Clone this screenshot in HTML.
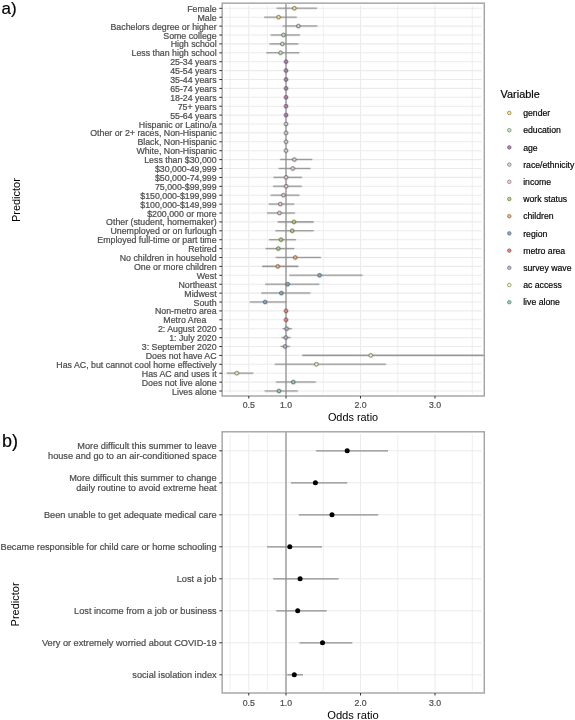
<!DOCTYPE html><html><head><meta charset="utf-8"><style>html,body{margin:0;padding:0;background:#fff;}svg{display:block;will-change:transform;} text.t{stroke:#4d4d4d;stroke-width:0.22px;} text.k{stroke:#000;stroke-width:0.18px;}</style></head><body>
<svg width="575" height="720" viewBox="0 0 575 720" font-family='"Liberation Sans", sans-serif'>
<rect width="575" height="720" fill="#fff"/>
<line x1="230.12" y1="5.35" x2="230.12" y2="393.8" stroke="#ebebeb" stroke-width="0.8"/>
<line x1="267.38" y1="5.35" x2="267.38" y2="393.8" stroke="#ebebeb" stroke-width="0.8"/>
<line x1="323.25" y1="5.35" x2="323.25" y2="393.8" stroke="#ebebeb" stroke-width="0.8"/>
<line x1="397.75" y1="5.35" x2="397.75" y2="393.8" stroke="#ebebeb" stroke-width="0.8"/>
<line x1="472.25" y1="5.35" x2="472.25" y2="393.8" stroke="#ebebeb" stroke-width="0.8"/>
<line x1="248.75" y1="5.35" x2="248.75" y2="393.8" stroke="#ebebeb" stroke-width="1.1"/>
<line x1="286.00" y1="5.35" x2="286.00" y2="393.8" stroke="#ebebeb" stroke-width="1.1"/>
<line x1="360.50" y1="5.35" x2="360.50" y2="393.8" stroke="#ebebeb" stroke-width="1.1"/>
<line x1="435.00" y1="5.35" x2="435.00" y2="393.8" stroke="#ebebeb" stroke-width="1.1"/>
<line x1="224.15" y1="8.32" x2="481.8" y2="8.32" stroke="#ebebeb" stroke-width="1.1"/>
<line x1="224.15" y1="17.22" x2="481.8" y2="17.22" stroke="#ebebeb" stroke-width="1.1"/>
<line x1="224.15" y1="26.12" x2="481.8" y2="26.12" stroke="#ebebeb" stroke-width="1.1"/>
<line x1="224.15" y1="35.02" x2="481.8" y2="35.02" stroke="#ebebeb" stroke-width="1.1"/>
<line x1="224.15" y1="43.92" x2="481.8" y2="43.92" stroke="#ebebeb" stroke-width="1.1"/>
<line x1="224.15" y1="52.82" x2="481.8" y2="52.82" stroke="#ebebeb" stroke-width="1.1"/>
<line x1="224.15" y1="61.72" x2="481.8" y2="61.72" stroke="#ebebeb" stroke-width="1.1"/>
<line x1="224.15" y1="70.62" x2="481.8" y2="70.62" stroke="#ebebeb" stroke-width="1.1"/>
<line x1="224.15" y1="79.52" x2="481.8" y2="79.52" stroke="#ebebeb" stroke-width="1.1"/>
<line x1="224.15" y1="88.42" x2="481.8" y2="88.42" stroke="#ebebeb" stroke-width="1.1"/>
<line x1="224.15" y1="97.32" x2="481.8" y2="97.32" stroke="#ebebeb" stroke-width="1.1"/>
<line x1="224.15" y1="106.22" x2="481.8" y2="106.22" stroke="#ebebeb" stroke-width="1.1"/>
<line x1="224.15" y1="115.12" x2="481.8" y2="115.12" stroke="#ebebeb" stroke-width="1.1"/>
<line x1="224.15" y1="124.02" x2="481.8" y2="124.02" stroke="#ebebeb" stroke-width="1.1"/>
<line x1="224.15" y1="132.92" x2="481.8" y2="132.92" stroke="#ebebeb" stroke-width="1.1"/>
<line x1="224.15" y1="141.82" x2="481.8" y2="141.82" stroke="#ebebeb" stroke-width="1.1"/>
<line x1="224.15" y1="150.72" x2="481.8" y2="150.72" stroke="#ebebeb" stroke-width="1.1"/>
<line x1="224.15" y1="159.62" x2="481.8" y2="159.62" stroke="#ebebeb" stroke-width="1.1"/>
<line x1="224.15" y1="168.52" x2="481.8" y2="168.52" stroke="#ebebeb" stroke-width="1.1"/>
<line x1="224.15" y1="177.42" x2="481.8" y2="177.42" stroke="#ebebeb" stroke-width="1.1"/>
<line x1="224.15" y1="186.32" x2="481.8" y2="186.32" stroke="#ebebeb" stroke-width="1.1"/>
<line x1="224.15" y1="195.22" x2="481.8" y2="195.22" stroke="#ebebeb" stroke-width="1.1"/>
<line x1="224.15" y1="204.12" x2="481.8" y2="204.12" stroke="#ebebeb" stroke-width="1.1"/>
<line x1="224.15" y1="213.02" x2="481.8" y2="213.02" stroke="#ebebeb" stroke-width="1.1"/>
<line x1="224.15" y1="221.92" x2="481.8" y2="221.92" stroke="#ebebeb" stroke-width="1.1"/>
<line x1="224.15" y1="230.82" x2="481.8" y2="230.82" stroke="#ebebeb" stroke-width="1.1"/>
<line x1="224.15" y1="239.72" x2="481.8" y2="239.72" stroke="#ebebeb" stroke-width="1.1"/>
<line x1="224.15" y1="248.62" x2="481.8" y2="248.62" stroke="#ebebeb" stroke-width="1.1"/>
<line x1="224.15" y1="257.52" x2="481.8" y2="257.52" stroke="#ebebeb" stroke-width="1.1"/>
<line x1="224.15" y1="266.42" x2="481.8" y2="266.42" stroke="#ebebeb" stroke-width="1.1"/>
<line x1="224.15" y1="275.32" x2="481.8" y2="275.32" stroke="#ebebeb" stroke-width="1.1"/>
<line x1="224.15" y1="284.22" x2="481.8" y2="284.22" stroke="#ebebeb" stroke-width="1.1"/>
<line x1="224.15" y1="293.12" x2="481.8" y2="293.12" stroke="#ebebeb" stroke-width="1.1"/>
<line x1="224.15" y1="302.02" x2="481.8" y2="302.02" stroke="#ebebeb" stroke-width="1.1"/>
<line x1="224.15" y1="310.92" x2="481.8" y2="310.92" stroke="#ebebeb" stroke-width="1.1"/>
<line x1="224.15" y1="319.82" x2="481.8" y2="319.82" stroke="#ebebeb" stroke-width="1.1"/>
<line x1="224.15" y1="328.72" x2="481.8" y2="328.72" stroke="#ebebeb" stroke-width="1.1"/>
<line x1="224.15" y1="337.62" x2="481.8" y2="337.62" stroke="#ebebeb" stroke-width="1.1"/>
<line x1="224.15" y1="346.52" x2="481.8" y2="346.52" stroke="#ebebeb" stroke-width="1.1"/>
<line x1="224.15" y1="355.42" x2="481.8" y2="355.42" stroke="#ebebeb" stroke-width="1.1"/>
<line x1="224.15" y1="364.32" x2="481.8" y2="364.32" stroke="#ebebeb" stroke-width="1.1"/>
<line x1="224.15" y1="373.22" x2="481.8" y2="373.22" stroke="#ebebeb" stroke-width="1.1"/>
<line x1="224.15" y1="382.12" x2="481.8" y2="382.12" stroke="#ebebeb" stroke-width="1.1"/>
<line x1="224.15" y1="391.02" x2="481.8" y2="391.02" stroke="#ebebeb" stroke-width="1.1"/>
<line x1="286" y1="3.15" x2="286" y2="396.0" stroke="#a0a0a0" stroke-width="1.5"/>
<svg x="222.15" y="3.15" width="262.15" height="392.85" overflow="hidden"><g transform="translate(-222.15,-3.15)">
<line x1="276.6" y1="8.32" x2="317" y2="8.32" stroke="#8e8e8e" stroke-width="1.3"/>
<line x1="264.1" y1="17.22" x2="296.8" y2="17.22" stroke="#8e8e8e" stroke-width="1.3"/>
<line x1="282.7" y1="26.12" x2="317.3" y2="26.12" stroke="#8e8e8e" stroke-width="1.3"/>
<line x1="270.6" y1="35.02" x2="300" y2="35.02" stroke="#8e8e8e" stroke-width="1.3"/>
<line x1="269.5" y1="43.92" x2="298.4" y2="43.92" stroke="#8e8e8e" stroke-width="1.3"/>
<line x1="266.3" y1="52.82" x2="299.3" y2="52.82" stroke="#8e8e8e" stroke-width="1.3"/>
<line x1="280" y1="159.62" x2="312.3" y2="159.62" stroke="#8e8e8e" stroke-width="1.3"/>
<line x1="278.6" y1="168.52" x2="310.5" y2="168.52" stroke="#8e8e8e" stroke-width="1.3"/>
<line x1="273.4" y1="177.42" x2="301.9" y2="177.42" stroke="#8e8e8e" stroke-width="1.3"/>
<line x1="273" y1="186.32" x2="301.9" y2="186.32" stroke="#8e8e8e" stroke-width="1.3"/>
<line x1="270.6" y1="195.22" x2="299.5" y2="195.22" stroke="#8e8e8e" stroke-width="1.3"/>
<line x1="268.7" y1="204.12" x2="294.3" y2="204.12" stroke="#8e8e8e" stroke-width="1.3"/>
<line x1="267" y1="213.02" x2="295" y2="213.02" stroke="#8e8e8e" stroke-width="1.3"/>
<line x1="277.7" y1="221.92" x2="313.7" y2="221.92" stroke="#8e8e8e" stroke-width="1.3"/>
<line x1="275.3" y1="230.82" x2="313.7" y2="230.82" stroke="#8e8e8e" stroke-width="1.3"/>
<line x1="268.9" y1="239.72" x2="296" y2="239.72" stroke="#8e8e8e" stroke-width="1.3"/>
<line x1="265.6" y1="248.62" x2="294.3" y2="248.62" stroke="#8e8e8e" stroke-width="1.3"/>
<line x1="275.7" y1="257.52" x2="320.9" y2="257.52" stroke="#8e8e8e" stroke-width="1.3"/>
<line x1="262.1" y1="266.42" x2="298.4" y2="266.42" stroke="#8e8e8e" stroke-width="1.3"/>
<line x1="289.2" y1="275.32" x2="362.5" y2="275.32" stroke="#8e8e8e" stroke-width="1.3"/>
<line x1="265.1" y1="284.22" x2="319.4" y2="284.22" stroke="#8e8e8e" stroke-width="1.3"/>
<line x1="261.2" y1="293.12" x2="310.4" y2="293.12" stroke="#8e8e8e" stroke-width="1.3"/>
<line x1="249.7" y1="302.02" x2="286.3" y2="302.02" stroke="#8e8e8e" stroke-width="1.3"/>
<line x1="282.5" y1="328.72" x2="291.9" y2="328.72" stroke="#8e8e8e" stroke-width="1.3"/>
<line x1="281.5" y1="337.62" x2="290.7" y2="337.62" stroke="#8e8e8e" stroke-width="1.3"/>
<line x1="280.6" y1="346.52" x2="289.8" y2="346.52" stroke="#8e8e8e" stroke-width="1.3"/>
<line x1="302.2" y1="355.42" x2="484" y2="355.42" stroke="#8e8e8e" stroke-width="1.3"/>
<line x1="274.7" y1="364.32" x2="386" y2="364.32" stroke="#8e8e8e" stroke-width="1.3"/>
<line x1="226.7" y1="373.22" x2="253.3" y2="373.22" stroke="#8e8e8e" stroke-width="1.3"/>
<line x1="275.9" y1="382.12" x2="315.7" y2="382.12" stroke="#8e8e8e" stroke-width="1.3"/>
<line x1="264.6" y1="391.02" x2="297.8" y2="391.02" stroke="#8e8e8e" stroke-width="1.3"/>
<circle cx="294.4" cy="8.32" r="1.85" fill="#FFED6F" stroke="#484848" stroke-width="0.8"/>
<circle cx="278.6" cy="17.22" r="1.85" fill="#FFED6F" stroke="#484848" stroke-width="0.8"/>
<circle cx="298.4" cy="26.12" r="1.85" fill="#CCEBC5" stroke="#484848" stroke-width="0.8"/>
<circle cx="283.5" cy="35.02" r="1.85" fill="#CCEBC5" stroke="#484848" stroke-width="0.8"/>
<circle cx="282.4" cy="43.92" r="1.85" fill="#CCEBC5" stroke="#484848" stroke-width="0.8"/>
<circle cx="280.6" cy="52.82" r="1.85" fill="#CCEBC5" stroke="#484848" stroke-width="0.8"/>
<circle cx="286" cy="61.72" r="1.85" fill="#BC80BD" stroke="#484848" stroke-width="0.8"/>
<circle cx="286" cy="70.62" r="1.85" fill="#BC80BD" stroke="#484848" stroke-width="0.8"/>
<circle cx="286" cy="79.52" r="1.85" fill="#BC80BD" stroke="#484848" stroke-width="0.8"/>
<circle cx="286" cy="88.42" r="1.85" fill="#BC80BD" stroke="#484848" stroke-width="0.8"/>
<circle cx="286" cy="97.32" r="1.85" fill="#BC80BD" stroke="#484848" stroke-width="0.8"/>
<circle cx="286" cy="106.22" r="1.85" fill="#BC80BD" stroke="#484848" stroke-width="0.8"/>
<circle cx="286" cy="115.12" r="1.85" fill="#BC80BD" stroke="#484848" stroke-width="0.8"/>
<circle cx="286" cy="124.02" r="1.85" fill="#D9D9D9" stroke="#484848" stroke-width="0.8"/>
<circle cx="286" cy="132.92" r="1.85" fill="#D9D9D9" stroke="#484848" stroke-width="0.8"/>
<circle cx="286" cy="141.82" r="1.85" fill="#D9D9D9" stroke="#484848" stroke-width="0.8"/>
<circle cx="286" cy="150.72" r="1.85" fill="#D9D9D9" stroke="#484848" stroke-width="0.8"/>
<circle cx="294.4" cy="159.62" r="1.85" fill="#FCCDE5" stroke="#484848" stroke-width="0.8"/>
<circle cx="292.8" cy="168.52" r="1.85" fill="#FCCDE5" stroke="#484848" stroke-width="0.8"/>
<circle cx="286.1" cy="177.42" r="1.85" fill="#FCCDE5" stroke="#484848" stroke-width="0.8"/>
<circle cx="286.1" cy="186.32" r="1.85" fill="#FCCDE5" stroke="#484848" stroke-width="0.8"/>
<circle cx="283.5" cy="195.22" r="1.85" fill="#FCCDE5" stroke="#484848" stroke-width="0.8"/>
<circle cx="280.3" cy="204.12" r="1.85" fill="#FCCDE5" stroke="#484848" stroke-width="0.8"/>
<circle cx="279.5" cy="213.02" r="1.85" fill="#FCCDE5" stroke="#484848" stroke-width="0.8"/>
<circle cx="293.9" cy="221.92" r="1.85" fill="#B3DE69" stroke="#484848" stroke-width="0.8"/>
<circle cx="292.2" cy="230.82" r="1.85" fill="#B3DE69" stroke="#484848" stroke-width="0.8"/>
<circle cx="281" cy="239.72" r="1.85" fill="#B3DE69" stroke="#484848" stroke-width="0.8"/>
<circle cx="278.3" cy="248.62" r="1.85" fill="#B3DE69" stroke="#484848" stroke-width="0.8"/>
<circle cx="295.3" cy="257.52" r="1.85" fill="#FDB462" stroke="#484848" stroke-width="0.8"/>
<circle cx="277.8" cy="266.42" r="1.85" fill="#FDB462" stroke="#484848" stroke-width="0.8"/>
<circle cx="319.6" cy="275.32" r="1.85" fill="#80B1D3" stroke="#484848" stroke-width="0.8"/>
<circle cx="287.7" cy="284.22" r="1.85" fill="#80B1D3" stroke="#484848" stroke-width="0.8"/>
<circle cx="281.4" cy="293.12" r="1.85" fill="#80B1D3" stroke="#484848" stroke-width="0.8"/>
<circle cx="265.1" cy="302.02" r="1.85" fill="#80B1D3" stroke="#484848" stroke-width="0.8"/>
<circle cx="286" cy="310.92" r="1.85" fill="#FB8072" stroke="#484848" stroke-width="0.8"/>
<circle cx="286" cy="319.82" r="1.85" fill="#FB8072" stroke="#484848" stroke-width="0.8"/>
<circle cx="286.7" cy="328.72" r="1.85" fill="#BEBADA" stroke="#484848" stroke-width="0.8"/>
<circle cx="285.8" cy="337.62" r="1.85" fill="#BEBADA" stroke="#484848" stroke-width="0.8"/>
<circle cx="285" cy="346.52" r="1.85" fill="#BEBADA" stroke="#484848" stroke-width="0.8"/>
<circle cx="370.8" cy="355.42" r="1.85" fill="#FFFFB3" stroke="#484848" stroke-width="0.8"/>
<circle cx="316.4" cy="364.32" r="1.85" fill="#FFFFB3" stroke="#484848" stroke-width="0.8"/>
<circle cx="236.8" cy="373.22" r="1.85" fill="#FFFFB3" stroke="#484848" stroke-width="0.8"/>
<circle cx="293.3" cy="382.12" r="1.85" fill="#8DD3C7" stroke="#484848" stroke-width="0.8"/>
<circle cx="279" cy="391.02" r="1.85" fill="#8DD3C7" stroke="#484848" stroke-width="0.8"/>
</g></svg>
<rect x="222.15" y="3.15" width="262.15" height="392.85" fill="none" stroke="#a2a2a2" stroke-width="1.4"/>
<line x1="248.75" y1="396.0" x2="248.75" y2="398.5" stroke="#333" stroke-width="1"/>
<line x1="286.00" y1="396.0" x2="286.00" y2="398.5" stroke="#333" stroke-width="1"/>
<line x1="360.50" y1="396.0" x2="360.50" y2="398.5" stroke="#333" stroke-width="1"/>
<line x1="435.00" y1="396.0" x2="435.00" y2="398.5" stroke="#333" stroke-width="1"/>
<line x1="219.3" y1="8.32" x2="222.15" y2="8.32" stroke="#333" stroke-width="1"/>
<text x="216.6" y="11.82" font-size="8.8" fill="#4d4d4d" class="t" text-anchor="end">Female</text>
<line x1="219.3" y1="17.22" x2="222.15" y2="17.22" stroke="#333" stroke-width="1"/>
<text x="216.6" y="20.72" font-size="8.8" fill="#4d4d4d" class="t" text-anchor="end">Male</text>
<line x1="219.3" y1="26.12" x2="222.15" y2="26.12" stroke="#333" stroke-width="1"/>
<text x="216.6" y="29.62" font-size="8.8" fill="#4d4d4d" class="t" text-anchor="end">Bachelors degree or higher</text>
<line x1="219.3" y1="35.02" x2="222.15" y2="35.02" stroke="#333" stroke-width="1"/>
<text x="216.6" y="38.52" font-size="8.8" fill="#4d4d4d" class="t" text-anchor="end">Some college</text>
<line x1="219.3" y1="43.92" x2="222.15" y2="43.92" stroke="#333" stroke-width="1"/>
<text x="216.6" y="47.42" font-size="8.8" fill="#4d4d4d" class="t" text-anchor="end">High school</text>
<line x1="219.3" y1="52.82" x2="222.15" y2="52.82" stroke="#333" stroke-width="1"/>
<text x="216.6" y="56.32" font-size="8.8" fill="#4d4d4d" class="t" text-anchor="end">Less than high school</text>
<line x1="219.3" y1="61.72" x2="222.15" y2="61.72" stroke="#333" stroke-width="1"/>
<text x="216.6" y="65.22" font-size="8.8" fill="#4d4d4d" class="t" text-anchor="end">25-34 years</text>
<line x1="219.3" y1="70.62" x2="222.15" y2="70.62" stroke="#333" stroke-width="1"/>
<text x="216.6" y="74.12" font-size="8.8" fill="#4d4d4d" class="t" text-anchor="end">45-54 years</text>
<line x1="219.3" y1="79.52" x2="222.15" y2="79.52" stroke="#333" stroke-width="1"/>
<text x="216.6" y="83.02" font-size="8.8" fill="#4d4d4d" class="t" text-anchor="end">35-44 years</text>
<line x1="219.3" y1="88.42" x2="222.15" y2="88.42" stroke="#333" stroke-width="1"/>
<text x="216.6" y="91.92" font-size="8.8" fill="#4d4d4d" class="t" text-anchor="end">65-74 years</text>
<line x1="219.3" y1="97.32" x2="222.15" y2="97.32" stroke="#333" stroke-width="1"/>
<text x="216.6" y="100.82" font-size="8.8" fill="#4d4d4d" class="t" text-anchor="end">18-24 years</text>
<line x1="219.3" y1="106.22" x2="222.15" y2="106.22" stroke="#333" stroke-width="1"/>
<text x="216.6" y="109.72" font-size="8.8" fill="#4d4d4d" class="t" text-anchor="end">75+ years</text>
<line x1="219.3" y1="115.12" x2="222.15" y2="115.12" stroke="#333" stroke-width="1"/>
<text x="216.6" y="118.62" font-size="8.8" fill="#4d4d4d" class="t" text-anchor="end">55-64 years</text>
<line x1="219.3" y1="124.02" x2="222.15" y2="124.02" stroke="#333" stroke-width="1"/>
<text x="216.6" y="127.52" font-size="8.8" fill="#4d4d4d" class="t" text-anchor="end">Hispanic or Latino/a</text>
<line x1="219.3" y1="132.92" x2="222.15" y2="132.92" stroke="#333" stroke-width="1"/>
<text x="216.6" y="136.42" font-size="8.8" fill="#4d4d4d" class="t" text-anchor="end">Other or 2+ races, Non-Hispanic</text>
<line x1="219.3" y1="141.82" x2="222.15" y2="141.82" stroke="#333" stroke-width="1"/>
<text x="216.6" y="145.32" font-size="8.8" fill="#4d4d4d" class="t" text-anchor="end">Black, Non-Hispanic</text>
<line x1="219.3" y1="150.72" x2="222.15" y2="150.72" stroke="#333" stroke-width="1"/>
<text x="216.6" y="154.22" font-size="8.8" fill="#4d4d4d" class="t" text-anchor="end">White, Non-Hispanic</text>
<line x1="219.3" y1="159.62" x2="222.15" y2="159.62" stroke="#333" stroke-width="1"/>
<text x="216.6" y="163.12" font-size="8.8" fill="#4d4d4d" class="t" text-anchor="end">Less than $30,000</text>
<line x1="219.3" y1="168.52" x2="222.15" y2="168.52" stroke="#333" stroke-width="1"/>
<text x="216.6" y="172.02" font-size="8.8" fill="#4d4d4d" class="t" text-anchor="end">$30,000-49,999</text>
<line x1="219.3" y1="177.42" x2="222.15" y2="177.42" stroke="#333" stroke-width="1"/>
<text x="216.6" y="180.92" font-size="8.8" fill="#4d4d4d" class="t" text-anchor="end">$50,000-74,999</text>
<line x1="219.3" y1="186.32" x2="222.15" y2="186.32" stroke="#333" stroke-width="1"/>
<text x="216.6" y="189.82" font-size="8.8" fill="#4d4d4d" class="t" text-anchor="end">75,000-$99,999</text>
<line x1="219.3" y1="195.22" x2="222.15" y2="195.22" stroke="#333" stroke-width="1"/>
<text x="216.6" y="198.72" font-size="8.8" fill="#4d4d4d" class="t" text-anchor="end">$150,000-$199,999</text>
<line x1="219.3" y1="204.12" x2="222.15" y2="204.12" stroke="#333" stroke-width="1"/>
<text x="216.6" y="207.62" font-size="8.8" fill="#4d4d4d" class="t" text-anchor="end">$100,000-$149,999</text>
<line x1="219.3" y1="213.02" x2="222.15" y2="213.02" stroke="#333" stroke-width="1"/>
<text x="216.6" y="216.52" font-size="8.8" fill="#4d4d4d" class="t" text-anchor="end">$200,000 or more</text>
<line x1="219.3" y1="221.92" x2="222.15" y2="221.92" stroke="#333" stroke-width="1"/>
<text x="216.6" y="225.42" font-size="8.8" fill="#4d4d4d" class="t" text-anchor="end">Other (student, homemaker)</text>
<line x1="219.3" y1="230.82" x2="222.15" y2="230.82" stroke="#333" stroke-width="1"/>
<text x="216.6" y="234.32" font-size="8.8" fill="#4d4d4d" class="t" text-anchor="end">Unemployed or on furlough</text>
<line x1="219.3" y1="239.72" x2="222.15" y2="239.72" stroke="#333" stroke-width="1"/>
<text x="216.6" y="243.22" font-size="8.8" fill="#4d4d4d" class="t" text-anchor="end">Employed full-time or part time</text>
<line x1="219.3" y1="248.62" x2="222.15" y2="248.62" stroke="#333" stroke-width="1"/>
<text x="216.6" y="252.12" font-size="8.8" fill="#4d4d4d" class="t" text-anchor="end">Retired</text>
<line x1="219.3" y1="257.52" x2="222.15" y2="257.52" stroke="#333" stroke-width="1"/>
<text x="216.6" y="261.02" font-size="8.8" fill="#4d4d4d" class="t" text-anchor="end">No children in household</text>
<line x1="219.3" y1="266.42" x2="222.15" y2="266.42" stroke="#333" stroke-width="1"/>
<text x="216.6" y="269.92" font-size="8.8" fill="#4d4d4d" class="t" text-anchor="end">One or more children</text>
<line x1="219.3" y1="275.32" x2="222.15" y2="275.32" stroke="#333" stroke-width="1"/>
<text x="216.6" y="278.82" font-size="8.8" fill="#4d4d4d" class="t" text-anchor="end">West</text>
<line x1="219.3" y1="284.22" x2="222.15" y2="284.22" stroke="#333" stroke-width="1"/>
<text x="216.6" y="287.72" font-size="8.8" fill="#4d4d4d" class="t" text-anchor="end">Northeast</text>
<line x1="219.3" y1="293.12" x2="222.15" y2="293.12" stroke="#333" stroke-width="1"/>
<text x="216.6" y="296.62" font-size="8.8" fill="#4d4d4d" class="t" text-anchor="end">Midwest</text>
<line x1="219.3" y1="302.02" x2="222.15" y2="302.02" stroke="#333" stroke-width="1"/>
<text x="216.6" y="305.52" font-size="8.8" fill="#4d4d4d" class="t" text-anchor="end">South</text>
<line x1="219.3" y1="310.92" x2="222.15" y2="310.92" stroke="#333" stroke-width="1"/>
<text x="216.6" y="314.42" font-size="8.8" fill="#4d4d4d" class="t" text-anchor="end">Non-metro area</text>
<line x1="219.3" y1="319.82" x2="222.15" y2="319.82" stroke="#333" stroke-width="1"/>
<text x="206.4" y="323.32" font-size="8.8" fill="#4d4d4d" class="t" text-anchor="end">Metro Area</text>
<line x1="219.3" y1="328.72" x2="222.15" y2="328.72" stroke="#333" stroke-width="1"/>
<text x="216.6" y="332.22" font-size="8.8" fill="#4d4d4d" class="t" text-anchor="end">2: August 2020</text>
<line x1="219.3" y1="337.62" x2="222.15" y2="337.62" stroke="#333" stroke-width="1"/>
<text x="216.6" y="341.12" font-size="8.8" fill="#4d4d4d" class="t" text-anchor="end">1: July 2020</text>
<line x1="219.3" y1="346.52" x2="222.15" y2="346.52" stroke="#333" stroke-width="1"/>
<text x="216.6" y="350.02" font-size="8.8" fill="#4d4d4d" class="t" text-anchor="end">3: September 2020</text>
<line x1="219.3" y1="355.42" x2="222.15" y2="355.42" stroke="#333" stroke-width="1"/>
<text x="216.6" y="358.92" font-size="8.8" fill="#4d4d4d" class="t" text-anchor="end">Does not have AC</text>
<line x1="219.3" y1="364.32" x2="222.15" y2="364.32" stroke="#333" stroke-width="1"/>
<text x="216.6" y="367.82" font-size="8.8" fill="#4d4d4d" class="t" text-anchor="end">Has AC, but cannot cool home effectively</text>
<line x1="219.3" y1="373.22" x2="222.15" y2="373.22" stroke="#333" stroke-width="1"/>
<text x="216.6" y="376.72" font-size="8.8" fill="#4d4d4d" class="t" text-anchor="end">Has AC and uses it</text>
<line x1="219.3" y1="382.12" x2="222.15" y2="382.12" stroke="#333" stroke-width="1"/>
<text x="216.6" y="385.62" font-size="8.8" fill="#4d4d4d" class="t" text-anchor="end">Does not live alone</text>
<line x1="219.3" y1="391.02" x2="222.15" y2="391.02" stroke="#333" stroke-width="1"/>
<text x="216.6" y="394.52" font-size="8.8" fill="#4d4d4d" class="t" text-anchor="end">Lives alone</text>
<text x="248.75" y="407.6" font-size="8.7" fill="#4d4d4d" class="t" text-anchor="middle">0.5</text>
<text x="286.00" y="407.6" font-size="8.7" fill="#4d4d4d" class="t" text-anchor="middle">1.0</text>
<text x="360.50" y="407.6" font-size="8.7" fill="#4d4d4d" class="t" text-anchor="middle">2.0</text>
<text x="435.00" y="407.6" font-size="8.7" fill="#4d4d4d" class="t" text-anchor="middle">3.0</text>
<text x="353" y="420.6" font-size="10.9" fill="#000" text-anchor="middle">Odds ratio</text>
<text transform="translate(19.6,200.1) rotate(-90)" font-size="11" fill="#000" text-anchor="middle">Predictor</text>
<text x="1.5" y="13.6" font-size="17" fill="#000" class="k">a)</text>
<text x="500.6" y="98.2" font-size="10.9" fill="#000" class="k">Variable</text>
<circle cx="509.3" cy="113.00" r="1.8" fill="#FFED6F" stroke="#444" stroke-width="0.5"/>
<text x="523.2" y="116.10" font-size="8.7" fill="#000" class="k">gender</text>
<circle cx="509.3" cy="130.20" r="1.8" fill="#CCEBC5" stroke="#444" stroke-width="0.5"/>
<text x="523.2" y="133.30" font-size="8.7" fill="#000" class="k">education</text>
<circle cx="509.3" cy="147.40" r="1.8" fill="#BC80BD" stroke="#444" stroke-width="0.5"/>
<text x="523.2" y="150.50" font-size="8.7" fill="#000" class="k">age</text>
<circle cx="509.3" cy="164.60" r="1.8" fill="#D9D9D9" stroke="#444" stroke-width="0.5"/>
<text x="523.2" y="167.70" font-size="8.7" fill="#000" class="k">race/ethnicity</text>
<circle cx="509.3" cy="181.80" r="1.8" fill="#FCCDE5" stroke="#444" stroke-width="0.5"/>
<text x="523.2" y="184.90" font-size="8.7" fill="#000" class="k">income</text>
<circle cx="509.3" cy="199.00" r="1.8" fill="#B3DE69" stroke="#444" stroke-width="0.5"/>
<text x="523.2" y="202.10" font-size="8.7" fill="#000" class="k">work status</text>
<circle cx="509.3" cy="216.20" r="1.8" fill="#FDB462" stroke="#444" stroke-width="0.5"/>
<text x="523.2" y="219.30" font-size="8.7" fill="#000" class="k">children</text>
<circle cx="509.3" cy="233.40" r="1.8" fill="#80B1D3" stroke="#444" stroke-width="0.5"/>
<text x="523.2" y="236.50" font-size="8.7" fill="#000" class="k">region</text>
<circle cx="509.3" cy="250.60" r="1.8" fill="#FB8072" stroke="#444" stroke-width="0.5"/>
<text x="523.2" y="253.70" font-size="8.7" fill="#000" class="k">metro area</text>
<circle cx="509.3" cy="267.80" r="1.8" fill="#BEBADA" stroke="#444" stroke-width="0.5"/>
<text x="523.2" y="270.90" font-size="8.7" fill="#000" class="k">survey wave</text>
<circle cx="509.3" cy="285.00" r="1.8" fill="#FFFFB3" stroke="#444" stroke-width="0.5"/>
<text x="523.2" y="288.10" font-size="8.7" fill="#000" class="k">ac access</text>
<circle cx="509.3" cy="302.20" r="1.8" fill="#8DD3C7" stroke="#444" stroke-width="0.5"/>
<text x="523.2" y="305.30" font-size="8.7" fill="#000" class="k">live alone</text>
<line x1="230.12" y1="434.0" x2="230.12" y2="690.8" stroke="#ebebeb" stroke-width="0.8"/>
<line x1="267.38" y1="434.0" x2="267.38" y2="690.8" stroke="#ebebeb" stroke-width="0.8"/>
<line x1="323.25" y1="434.0" x2="323.25" y2="690.8" stroke="#ebebeb" stroke-width="0.8"/>
<line x1="397.75" y1="434.0" x2="397.75" y2="690.8" stroke="#ebebeb" stroke-width="0.8"/>
<line x1="472.25" y1="434.0" x2="472.25" y2="690.8" stroke="#ebebeb" stroke-width="0.8"/>
<line x1="248.75" y1="434.0" x2="248.75" y2="690.8" stroke="#ebebeb" stroke-width="1.1"/>
<line x1="286.00" y1="434.0" x2="286.00" y2="690.8" stroke="#ebebeb" stroke-width="1.1"/>
<line x1="360.50" y1="434.0" x2="360.50" y2="690.8" stroke="#ebebeb" stroke-width="1.1"/>
<line x1="435.00" y1="434.0" x2="435.00" y2="690.8" stroke="#ebebeb" stroke-width="1.1"/>
<line x1="224.15" y1="450.80" x2="481.8" y2="450.80" stroke="#ebebeb" stroke-width="1.1"/>
<line x1="224.15" y1="482.80" x2="481.8" y2="482.80" stroke="#ebebeb" stroke-width="1.1"/>
<line x1="224.15" y1="514.80" x2="481.8" y2="514.80" stroke="#ebebeb" stroke-width="1.1"/>
<line x1="224.15" y1="546.80" x2="481.8" y2="546.80" stroke="#ebebeb" stroke-width="1.1"/>
<line x1="224.15" y1="578.80" x2="481.8" y2="578.80" stroke="#ebebeb" stroke-width="1.1"/>
<line x1="224.15" y1="610.80" x2="481.8" y2="610.80" stroke="#ebebeb" stroke-width="1.1"/>
<line x1="224.15" y1="642.80" x2="481.8" y2="642.80" stroke="#ebebeb" stroke-width="1.1"/>
<line x1="224.15" y1="674.80" x2="481.8" y2="674.80" stroke="#ebebeb" stroke-width="1.1"/>
<line x1="286" y1="431.8" x2="286" y2="693.0" stroke="#a0a0a0" stroke-width="1.5"/>
<line x1="316.1" y1="450.80" x2="388" y2="450.80" stroke="#8e8e8e" stroke-width="1.3"/>
<line x1="290.9" y1="482.80" x2="347.2" y2="482.80" stroke="#8e8e8e" stroke-width="1.3"/>
<line x1="298.7" y1="514.80" x2="378.2" y2="514.80" stroke="#8e8e8e" stroke-width="1.3"/>
<line x1="267.1" y1="546.80" x2="322" y2="546.80" stroke="#8e8e8e" stroke-width="1.3"/>
<line x1="273.2" y1="578.80" x2="338.6" y2="578.80" stroke="#8e8e8e" stroke-width="1.3"/>
<line x1="276.3" y1="610.80" x2="326.7" y2="610.80" stroke="#8e8e8e" stroke-width="1.3"/>
<line x1="299.5" y1="642.80" x2="352.3" y2="642.80" stroke="#8e8e8e" stroke-width="1.3"/>
<line x1="287.2" y1="674.80" x2="303" y2="674.80" stroke="#8e8e8e" stroke-width="1.3"/>
<circle cx="347.2" cy="450.80" r="2.5" fill="#000"/>
<circle cx="315.4" cy="482.80" r="2.5" fill="#000"/>
<circle cx="332" cy="514.80" r="2.5" fill="#000"/>
<circle cx="289.8" cy="546.80" r="2.5" fill="#000"/>
<circle cx="300.1" cy="578.80" r="2.5" fill="#000"/>
<circle cx="297.7" cy="610.80" r="2.5" fill="#000"/>
<circle cx="322.5" cy="642.80" r="2.5" fill="#000"/>
<circle cx="294.3" cy="674.80" r="2.5" fill="#000"/>
<rect x="222.15" y="431.8" width="262.15" height="261.2" fill="none" stroke="#a2a2a2" stroke-width="1.4"/>
<line x1="248.75" y1="693.0" x2="248.75" y2="695.5" stroke="#333" stroke-width="1"/>
<line x1="286.00" y1="693.0" x2="286.00" y2="695.5" stroke="#333" stroke-width="1"/>
<line x1="360.50" y1="693.0" x2="360.50" y2="695.5" stroke="#333" stroke-width="1"/>
<line x1="435.00" y1="693.0" x2="435.00" y2="695.5" stroke="#333" stroke-width="1"/>
<line x1="219.3" y1="450.80" x2="222.15" y2="450.80" stroke="#333" stroke-width="1"/>
<text x="216.6" y="449.30" font-size="9.2" fill="#4d4d4d" class="t" text-anchor="end">More difficult this summer to leave</text>
<text x="216.6" y="459.30" font-size="9.2" fill="#4d4d4d" class="t" text-anchor="end">house and go to an air-conditioned space</text>
<line x1="219.3" y1="482.80" x2="222.15" y2="482.80" stroke="#333" stroke-width="1"/>
<text x="216.6" y="481.30" font-size="9.2" fill="#4d4d4d" class="t" text-anchor="end">More difficult this summer to change</text>
<text x="216.6" y="491.30" font-size="9.2" fill="#4d4d4d" class="t" text-anchor="end">daily routine to avoid extreme heat</text>
<line x1="219.3" y1="514.80" x2="222.15" y2="514.80" stroke="#333" stroke-width="1"/>
<text x="216.6" y="518.30" font-size="9.2" fill="#4d4d4d" class="t" text-anchor="end">Been unable to get adequate medical care</text>
<line x1="219.3" y1="546.80" x2="222.15" y2="546.80" stroke="#333" stroke-width="1"/>
<text x="216.6" y="550.30" font-size="9.2" fill="#4d4d4d" class="t" text-anchor="end">Became responsible for child care or home schooling</text>
<line x1="219.3" y1="578.80" x2="222.15" y2="578.80" stroke="#333" stroke-width="1"/>
<text x="216.6" y="582.30" font-size="9.2" fill="#4d4d4d" class="t" text-anchor="end">Lost a job</text>
<line x1="219.3" y1="610.80" x2="222.15" y2="610.80" stroke="#333" stroke-width="1"/>
<text x="216.6" y="614.30" font-size="9.2" fill="#4d4d4d" class="t" text-anchor="end">Lost income from a job or business</text>
<line x1="219.3" y1="642.80" x2="222.15" y2="642.80" stroke="#333" stroke-width="1"/>
<text x="216.6" y="646.30" font-size="9.2" fill="#4d4d4d" class="t" text-anchor="end">Very or extremely worried about COVID-19</text>
<line x1="219.3" y1="674.80" x2="222.15" y2="674.80" stroke="#333" stroke-width="1"/>
<text x="216.6" y="678.30" font-size="9.2" fill="#4d4d4d" class="t" text-anchor="end">social isolation index</text>
<text x="248.75" y="705.6" font-size="8.7" fill="#4d4d4d" class="t" text-anchor="middle">0.5</text>
<text x="286.00" y="705.6" font-size="8.7" fill="#4d4d4d" class="t" text-anchor="middle">1.0</text>
<text x="360.50" y="705.6" font-size="8.7" fill="#4d4d4d" class="t" text-anchor="middle">2.0</text>
<text x="435.00" y="705.6" font-size="8.7" fill="#4d4d4d" class="t" text-anchor="middle">3.0</text>
<text x="353" y="718.6" font-size="11.2" fill="#000" text-anchor="middle">Odds ratio</text>
<text transform="translate(19.2,604.4) rotate(-90)" font-size="11" fill="#000" text-anchor="middle">Predictor</text>
<text x="2.0" y="446.8" font-size="18" fill="#000" class="k">b)</text>
</svg></body></html>
